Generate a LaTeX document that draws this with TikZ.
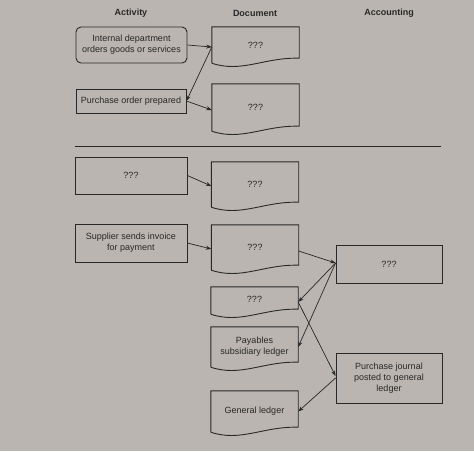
\documentclass[tikz,border=0pt]{standalone}
\usepackage{fontspec}
\setmainfont{Liberation Sans}
\usetikzlibrary{arrows.meta}
\definecolor{bg}{RGB}{186,181,176}
\definecolor{ink}{RGB}{40,40,40}
\tikzset{
  box/.style={draw=ink, line width=0.9pt, inner sep=0pt, align=center, text=ink,
    font=\fontsize{9}{11}\selectfont},
  rbox/.style={box, rounded corners=5pt},
  docnode/.style={inner sep=0pt, align=center, text=ink, minimum width=87pt,
    font=\fontsize{9}{11}\selectfont},
  docline/.style={draw=ink, line width=0.9pt},
  head/.style={text=ink, font=\fontsize{9}{11}\selectfont\bfseries},
  conn/.style={draw=ink, line width=0.7pt, -{Stealth[length=5.5pt,width=4pt]}}
}
\begin{document}
\begin{tikzpicture}[x=1pt,y=-1pt]
\fill[bg] (0,0) rectangle (474,451);
\useasboundingbox (0,0) rectangle (474,451);
% headers
\node[head] (hA) at (131,13) {Activity};
\node[head] (hD) at (255,13) {Document};
\node[head] (hC) at (389,13) {Accounting};
% top section
\node[rbox, minimum width=111pt, minimum height=36pt] (a1) at (131.5,45) {Internal department\\orders goods or services};
\node[docnode, minimum height=36pt] (d1) at (255.5,45) {???};
\node[box, minimum width=110pt, minimum height=24pt] (po) at (131,101) {Purchase order prepared};
\node[docnode, minimum height=47pt] (d2) at (255.5,107.5) {???};
% separator
\coordinate (sl) at (75,146);
\coordinate (sr) at (441,146);
\draw[draw=ink, line width=1pt] (sl) -- (sr);
% lower section
\node[box, minimum width=112pt, minimum height=37pt] (a3) at (131,175.5) {???};
\node[docnode, minimum height=45pt] (d3) at (255,184.5) {???};
\node[box, minimum width=112pt, minimum height=38pt] (sup) at (131,243) {Supplier sends invoice\\for payment};
\node[docnode, minimum height=45pt] (d4) at (255,247.5) {???};
\node[box, minimum width=106pt, minimum height=38pt] (acc) at (389,264) {???};
\node[docnode, minimum height=27pt] (d5) at (254.5,300.5) {\raisebox{3pt}{???}};
\node[docnode, minimum height=40pt] (d6) at (254.5,347) {Payables\\subsidiary ledger};
\node[box, minimum width=106pt, minimum height=50pt] (pj) at (389,378) {Purchase journal\\posted to general\\ledger};
\node[docnode, minimum height=41pt] (d7) at (254.5,411.5) {General ledger};
% document outlines
\foreach \n in {d1,d2,d3,d4,d5,d6,d7}{
  \draw[docline] (\n.south west) -- (\n.north west) -- (\n.north east) -- ([yshift=5pt]\n.south east)
    .. controls ([xshift=-35pt,yshift=6pt]\n.south east) and ([xshift=30pt,yshift=-10pt]\n.south west) .. (\n.south west);
}
% connectors
\coordinate (d1in) at ([yshift=-2pt]d1.west);
\draw[conn] (a1.east) -- (d1in);
\draw[conn] (d1in) -- (po.east);
\draw[conn] (po.east) -- ([yshift=-2.5pt]d2.west);
\draw[conn] (a3.east) -- ([yshift=-1.5pt]d3.west);
\draw[conn] (sup.east) -- ([yshift=-1.5pt]d4.west);
\draw[conn] ([yshift=-3.5pt]d4.east) -- ([yshift=1pt]acc.west);
\draw[conn] ([yshift=1pt]acc.west) -- ([yshift=-1.5pt]d5.east);
\draw[conn] ([yshift=1pt]acc.west) -- (d6.east);
\draw[conn] ([yshift=-1.5pt]d5.east) -- ([yshift=2pt]pj.west);
\draw[conn] (pj.west) -- (d7.east);
\end{tikzpicture}
\end{document}
